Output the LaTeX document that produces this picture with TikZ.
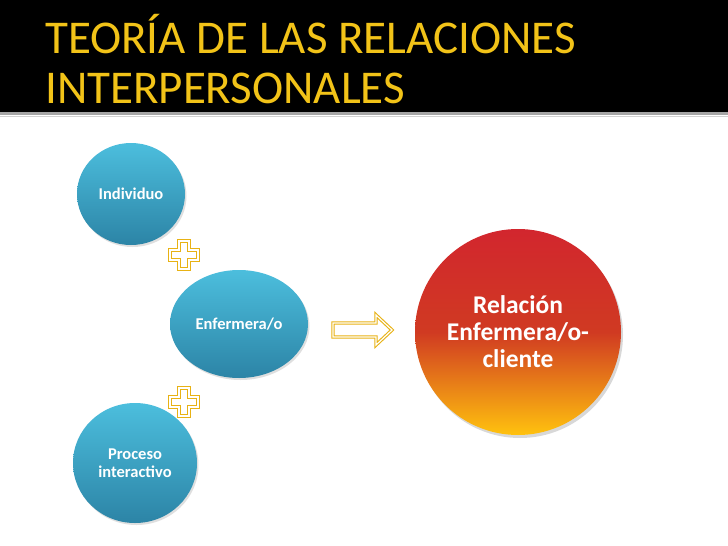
\documentclass[tikz,border=0pt]{standalone}
\usepackage{fontspec}
\setmainfont{Carlito}
\usetikzlibrary{shadows,shapes.geometric}
\definecolor{titleyellow}{HTML}{F2C318}
\definecolor{bluetop}{HTML}{4CBEDD}
\definecolor{bluebot}{HTML}{2C84A6}
\definecolor{redtop}{HTML}{D2262E}
\definecolor{redmid}{HTML}{D03A22}
\definecolor{orangebot}{HTML}{FFC20E}
\definecolor{gold}{HTML}{E8B214}
\tikzset{
  bubble/.style={ellipse, inner sep=0pt, top color=bluetop, bottom color=bluebot,
    text=white, font=\fontsize{16.5}{18}\selectfont\bfseries, align=center,
    drop shadow={opacity=0.25, shadow xshift=1.5pt, shadow yshift=-2pt}},
  plusshape/.style={draw=gold, double=white, double distance=1.2pt, line width=1.1pt, fill=white},
  titletext/.style={anchor=base west, text=titleyellow, font=\fontsize{47}{54}\selectfont, inner sep=0pt},
}
\begin{document}
\begin{tikzpicture}[x=1pt,y=-1pt]
\useasboundingbox (0,0) rectangle (728,546);
\fill[white] (0,0) rectangle (728,546);
\fill[black] (0,0) rectangle (728,112);
\fill[gray!70] (0,112) rectangle (728,115);
\fill[gray!35] (0,115.5) rectangle (728,117);
\node[titletext] (t1) at (45,53) {TEORÍA DE LAS RELACIONES};
\node[titletext] (t2) at (45,103) {INTERPERSONALES};

\node[bubble, minimum width=108pt, minimum height=102pt] (ind) at (131,194) {Individuo};
\node[bubble, minimum width=138pt, minimum height=108pt] (enf) at (239,324) {Enfermera/o};
\node[bubble, minimum width=124pt, minimum height=120pt] (pro) at (135,463) {Proceso\\interactivo};

\node[circle, minimum size=206pt, inner sep=0pt, text=white, align=center,
  font=\fontsize{25.5}{27}\selectfont\bfseries,
  shading=axis, top color=redtop, bottom color=orangebot, middle color=redmid,
  drop shadow={opacity=0.3, shadow xshift=2pt, shadow yshift=-3pt}] (rel) at (518,332)
  {Relación\\Enfermera/o-\\cliente};

% plus signs
\foreach \n/\cx/\cy in {p1/184/255, p2/184/402}{
  \coordinate (\n) at (\cx,\cy);
  \draw[plusshape] ([shift={(-5,-14)}]\n) -- ([shift={(5,-14)}]\n) -- ([shift={(5,-5)}]\n)
    -- ([shift={(14,-5)}]\n) -- ([shift={(14,5)}]\n) -- ([shift={(5,5)}]\n)
    -- ([shift={(5,14)}]\n) -- ([shift={(-5,14)}]\n) -- ([shift={(-5,5)}]\n)
    -- ([shift={(-14,5)}]\n) -- ([shift={(-14,-5)}]\n) -- ([shift={(-5,-5)}]\n) -- cycle;
}
% block arrow
\coordinate (ar) at (362,330);
\draw[plusshape] ([shift={(-29,-7)}]ar) -- ([shift={(14,-7)}]ar) -- ([shift={(14,-15)}]ar)
  -- ([shift={(30,0)}]ar) -- ([shift={(14,15)}]ar) -- ([shift={(14,7)}]ar)
  -- ([shift={(-29,7)}]ar) -- cycle;
\end{tikzpicture}
\end{document}
